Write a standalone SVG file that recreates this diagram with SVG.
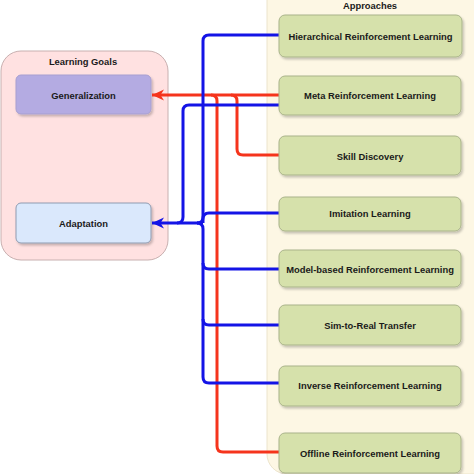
<svg xmlns="http://www.w3.org/2000/svg" width="474" height="474" viewBox="0 0 474 474">
<defs>
<style>
text{font-family:"Liberation Sans",Arial,sans-serif;font-weight:bold;font-size:9.4px;fill:#1a1a1a;text-anchor:middle;dominant-baseline:central}
.box{stroke:#a9b38a;stroke-width:1;fill:#d6e1ab}
.red{fill:none;stroke:#f5341c;stroke-width:3;stroke-linejoin:round}
.blue{fill:none;stroke:#1414e6;stroke-width:3;stroke-linejoin:round}
</style>
<filter id="sh" x="-10%" y="-10%" width="130%" height="140%">
<feDropShadow dx="1.5" dy="2" stdDeviation="1" flood-color="#000" flood-opacity="0.22"/>
</filter>
<marker id="ar" markerUnits="userSpaceOnUse" markerWidth="14" markerHeight="12" refX="13" refY="6" orient="auto" viewBox="0 0 14 12">
<path d="M13 6 L1 0.5 L4.5 6 L1 11.5 Z" fill="#f5341c"/>
</marker>
<marker id="ab" markerUnits="userSpaceOnUse" markerWidth="14" markerHeight="12" refX="13" refY="6" orient="auto" viewBox="0 0 14 12">
<path d="M13 6 L1 0.5 L4.5 6 L1 11.5 Z" fill="#1414e6"/>
</marker>
</defs>
<rect width="474" height="474" fill="#ffffff"/>

<g id="approaches">
<rect x="267" y="-20" width="230" height="494" rx="20" fill="#fdf7e4" stroke="#ece4cc" stroke-width="1"/>
<text x="370" y="5">Approaches</text>
</g>

<g id="learning-goals">
<rect x="1" y="51" width="167" height="209" rx="20" fill="#ffe1e1" stroke="#c8b0b0" stroke-width="1"/>
<text x="83" y="61">Learning Goals</text>
</g>

<g id="generalization">
<rect x="16" y="75" width="135" height="39" rx="5" fill="#b4abe2" stroke="#a79fd0" filter="url(#sh)"/>
<text x="83.5" y="95">Generalization</text>
</g>
<g id="adaptation">
<rect x="16" y="203" width="135" height="40" rx="5" fill="#dae8fc" stroke="#8e9bb0" filter="url(#sh)"/>
<text x="83.5" y="223">Adaptation</text>
</g>

<g id="connectors">
<path class="red" d="M279 155 H243 Q237 155 237 149 V101 Q237 95 231 95"/>
<path class="red" d="M279 452 H223 Q217 452 217 446 V101 Q217 95 211 95"/>
<path class="red" d="M279 95 H152" marker-end="url(#ar)"/>
<path class="blue" d="M279 35 H209 Q203 35 203 41 V217 Q203 223 197 223"/>
<path class="blue" d="M279 213 H209 Q203 213 203 219 V223"/>
<path class="blue" d="M279 269 H209 Q203 269 203 263 V229 Q203 223 197 223"/>
<path class="blue" d="M279 325 H209 Q203 325 203 319 V263"/>
<path class="blue" d="M279 383 H209 Q203 383 203 377 V319"/>
<path class="blue" d="M279 105 H189 Q183 105 183 111 V217 Q183 223 177 223"/>
<path class="blue" d="M203 223 H152" marker-end="url(#ab)"/>
</g>

<g id="hierarchical-rl"><rect class="box" x="279" y="15" width="183" height="42" rx="6" filter="url(#sh)"/><text x="370.5" y="36">Hierarchical Reinforcement Learning</text></g>
<g id="meta-rl"><rect class="box" x="279" y="76" width="182" height="39" rx="6" filter="url(#sh)"/><text x="370" y="95.5">Meta Reinforcement Learning</text></g>
<g id="skill-discovery"><rect class="box" x="279" y="136" width="182" height="39" rx="6" filter="url(#sh)"/><text x="370" y="156">Skill Discovery</text></g>
<g id="imitation-learning"><rect class="box" x="279" y="197" width="182" height="34" rx="6" filter="url(#sh)"/><text x="370" y="213.5">Imitation Learning</text></g>
<g id="model-based-rl"><rect class="box" x="279" y="250" width="182" height="37" rx="6" filter="url(#sh)"/><text x="370" y="269">Model-based Reinforcement Learning</text></g>
<g id="sim-to-real"><rect class="box" x="279" y="305" width="182" height="40" rx="6" filter="url(#sh)"/><text x="370" y="325">Sim-to-Real Transfer</text></g>
<g id="inverse-rl"><rect class="box" x="279" y="366" width="182" height="40" rx="6" filter="url(#sh)"/><text x="370" y="385.5">Inverse Reinforcement Learning</text></g>
<g id="offline-rl"><rect class="box" x="279" y="433" width="182" height="40" rx="6" filter="url(#sh)"/><text x="370" y="453">Offline Reinforcement Learning</text></g>
</svg>
